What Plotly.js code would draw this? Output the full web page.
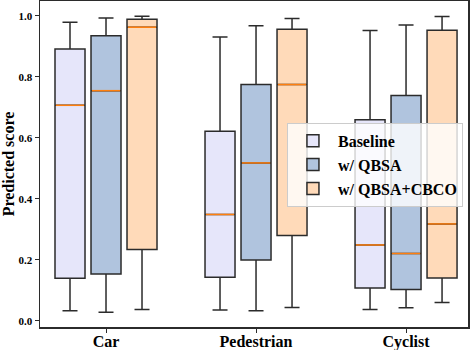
<!DOCTYPE html>
<html>
<head>
<meta charset="utf-8">
<script src="https://cdn.plot.ly/plotly-3.0.1.min.js"></script>
<style>html,body{margin:0;padding:0;background:#fff;}#chart{width:474px;height:350px;}</style>
</head>
<body>
<div id="chart"></div>
<script>
const categories = ["Car", "Pedestrian", "Cyclist"];
const seriesNames = ["Baseline", "w/ QBSA", "w/ QBSA+CBCO"];
const lowerWhisker = [
  [0.033, 0.036, 0.037],
  [0.028, 0.033, 0.043],
  [0.037, 0.044, 0.060]
];
const q1Values = [
  [0.140, 0.143, 0.108],
  [0.154, 0.200, 0.103],
  [0.234, 0.280, 0.141]
];
const medianValues = [
  [0.707, 0.349, 0.249],
  [0.755, 0.518, 0.221],
  [0.963, 0.775, 0.318]
];
const q3Values = [
  [0.892, 0.622, 0.660],
  [0.935, 0.775, 0.739],
  [0.989, 0.956, 0.953]
];
const upperWhisker = [
  [0.979, 0.931, 0.952],
  [0.993, 0.968, 0.970],
  [0.999, 0.992, 0.998]
];
const yTicks = [0.0, 0.2, 0.4, 0.6, 0.8, 1.0];

const fills = ["#e6e6fa", "#b0c4de", "#ffdab9"];
const edge = "#2b2b2b";
const offsets = [-0.24, 0, 0.24];
const boxW = 0.2;
const serif = "Liberation Serif, Times New Roman, serif";

const traces = [];
seriesNames.forEach((name, s) => {
  const xs = categories.map((c, i) => i + offsets[s]);
  traces.push({
    type: "box",
    name: name,
    x: xs,
    q1: q1Values[s],
    median: medianValues[s],
    q3: q3Values[s],
    lowerfence: lowerWhisker[s],
    upperfence: upperWhisker[s],
    width: boxW,
    whiskerwidth: 0.5,
    fillcolor: fills[s],
    line: {color: edge, width: 1.5},
    boxpoints: false,
    hoverinfo: "skip"
  });
});
seriesNames.forEach((name, s) => {
  const mx = [], my = [];
  categories.forEach((c, i) => {
    const p = i + offsets[s];
    mx.push(p - boxW / 2 + 0.006, p + boxW / 2 - 0.006, null);
    my.push(medianValues[s][i], medianValues[s][i], null);
  });
  traces.push({
    type: "scatter", mode: "lines", x: mx, y: my,
    line: {color: "#ff7f0e", width: 1.5},
    showlegend: false, hoverinfo: "skip"
  });
});

const layout = {
  width: 474, height: 350,
  margin: {l: 40, r: 6, t: 1, b: 23},
  paper_bgcolor: "#fff", plot_bgcolor: "#fff",
  font: {family: serif, color: "#000"},
  showlegend: true,
  xaxis: {
    range: [-0.44, 2.413],
    tickvals: categories.map((c, i) => i),
    ticktext: categories,
    showgrid: false, zeroline: false,
    showline: true, linecolor: edge, linewidth: 1.5, mirror: true,
    ticks: "outside", ticklen: 4, tickcolor: edge,
    ticklabelstandoff: -5,
    tickfont: {family: serif, size: 16, weight: "bold", color: "#000"},
    automargin: false,
    fixedrange: true
  },
  yaxis: {
    range: [-0.02, 1.049],
    tickvals: yTicks,
    tickformat: ".1f",
    showgrid: false, zeroline: false,
    showline: true, linecolor: edge, linewidth: 1.5, mirror: true,
    ticks: "outside", ticklen: 4, tickcolor: edge,
    tickfont: {family: serif, size: 11, weight: "bold", color: "#000"},
    title: {text: "Predicted score", font: {family: serif, size: 16, weight: "bold", color: "#000"}, standoff: 4},
    automargin: false,
    fixedrange: true
  },
  legend: {
    x: 0.577, y: 0.626, xanchor: "left", yanchor: "top",
    bgcolor: "rgba(255,255,255,0.8)", bordercolor: "#cccccc", borderwidth: 1,
    font: {family: serif, size: 16, weight: "bold", color: "#000"},
    itemwidth: 40
  }
};

Plotly.newPlot("chart", traces, layout, {displayModeBar: false, staticPlot: true});
</script>
</body>
</html>
